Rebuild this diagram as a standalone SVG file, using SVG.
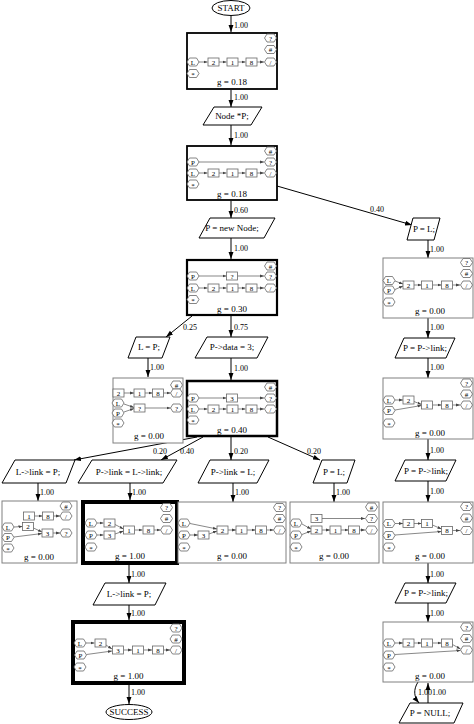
<svg xmlns="http://www.w3.org/2000/svg" width="474" height="724" viewBox="0 0 474 724">
<defs>
<style>
text{font-family:"Liberation Serif","Times New Roman",serif;fill:#000;stroke:none}
.n{font-size:9px;text-anchor:middle}
.e{font-size:8px}
.g{font-size:9px;text-anchor:middle}
.t{font-size:7px;text-anchor:middle}
.fr{fill:#fff;stroke:#808080;stroke-width:1}
.ia{stroke:#555;stroke-width:0.7;fill:none;marker-end:url(#sa)}
.ed{stroke:#000;stroke-width:1;fill:none;marker-end:url(#ah)}
.sh{fill:#fff;stroke:#000;stroke-width:1}
</style>
<marker id="ah" viewBox="0 0 10 10" refX="10" refY="5" markerWidth="7" markerHeight="7" markerUnits="userSpaceOnUse" orient="auto"><path d="M0,1.5L10,5L0,8.5z" fill="#000"/></marker>
<marker id="sa" viewBox="0 0 10 10" refX="10" refY="5" markerWidth="4" markerHeight="4" markerUnits="userSpaceOnUse" orient="auto"><path d="M0,1.5L10,5L0,8.5z" fill="#444"/></marker>
<polygon id="hx" points="-6,0 -3.5,-4 3.5,-4 6,0 3.5,4 -3.5,4" fill="#fff" stroke="#666" stroke-width="0.8"/>
<rect id="bx" x="-5.5" y="-4" width="11" height="8" fill="#fff" stroke="#666" stroke-width="0.8"/>
</defs>
<rect x="0" y="0" width="474" height="724" fill="#fff"/>

<g id="connectors">
<path class="ed" d="M231,16V32"/>
<path class="ed" d="M231,90V107"/>
<path class="ed" d="M231,125V145"/>
<path class="ed" d="M231,201V218"/>
<path class="ed" d="M277,186L412,225"/>
<path class="ed" d="M231,238V259"/>
<path class="ed" d="M192,316L166,337"/>
<path class="ed" d="M231,316V337"/>
<path class="ed" d="M148,358V377"/>
<path class="ed" d="M231,358V380"/>
<path class="ed" d="M197,437L74,460"/>
<path class="ed" d="M203,437L161,460"/>
<path class="ed" d="M231,437V460"/>
<path class="ed" d="M268,437L320,460"/>
<path class="ed" d="M38,483V501"/>
<path class="ed" d="M130,483V500"/>
<path class="ed" d="M233,483V502"/>
<path class="ed" d="M334,483V502"/>
<path class="ed" d="M129,565V583"/>
<path class="ed" d="M129,605V620"/>
<path class="ed" d="M129,685V704"/>
<path class="ed" d="M428,240V258"/>
<path class="ed" d="M428,318V338"/>
<path class="ed" d="M428,358V378"/>
<path class="ed" d="M428,439V460"/>
<path class="ed" d="M428,481V502"/>
<path class="ed" d="M428,563V583"/>
<path class="ed" d="M428,603V622"/>
<path class="ed" d="M418,682C413,690 414,697 419,703"/>
<path class="ed" d="M428,703V683"/>
<text class="e" x="234" y="28">1.00</text>
<text class="e" x="234" y="100">1.00</text>
<text class="e" x="234" y="138">1.00</text>
<text class="e" x="234" y="213">0.60</text>
<text class="e" x="370" y="212">0.40</text>
<text class="e" x="234" y="251">1.00</text>
<text class="e" x="183" y="330">0.25</text>
<text class="e" x="234" y="330">0.75</text>
<text class="e" x="150" y="370">1.00</text>
<text class="e" x="234" y="371">1.00</text>
<text class="e" x="153" y="454">0.20</text>
<text class="e" x="180" y="454">0.40</text>
<text class="e" x="234" y="454">0.20</text>
<text class="e" x="307" y="454">0.20</text>
<text class="e" x="40" y="495">1.00</text>
<text class="e" x="132" y="495">1.00</text>
<text class="e" x="235" y="495">1.00</text>
<text class="e" x="336" y="495">1.00</text>
<text class="e" x="131" y="577">1.00</text>
<text class="e" x="131" y="616">1.00</text>
<text class="e" x="131" y="695">1.00</text>
<text class="e" x="430" y="252">1.00</text>
<text class="e" x="430" y="330">1.00</text>
<text class="e" x="430" y="370">1.00</text>
<text class="e" x="430" y="453">1.00</text>
<text class="e" x="430" y="494">1.00</text>
<text class="e" x="430" y="577">1.00</text>
<text class="e" x="430" y="616">1.00</text>
<text class="e" x="418" y="695">1.00</text>
<text class="e" x="432" y="695">1.00</text>
</g>

<g id="start"><ellipse class="sh" cx="231" cy="8" rx="19" ry="7.5"/><text class="n" x="231" y="11">START</text></g>

<g id="b1">
<rect x="187" y="33" width="90" height="56" fill="#fff" stroke="#000" stroke-width="1.8"/>
<line class="ia" x1="199" y1="62" x2="207.5" y2="62"/><line class="ia" x1="219" y1="62" x2="226.5" y2="62"/><line class="ia" x1="238" y1="62" x2="245.5" y2="62"/><line class="ia" x1="257" y1="62" x2="264" y2="62"/>
<use href="#hx" x="270.5" y="38"/><text class="t" x="270.5" y="40.5">?</text>
<use href="#hx" x="270.5" y="49.5"/><text class="t" x="270.5" y="52">#</text>
<use href="#hx" x="193" y="62"/><text class="t" x="193" y="64.5">L</text>
<use href="#bx" x="213.5" y="62"/><text class="t" x="213.5" y="64.5">2</text>
<use href="#bx" x="232.5" y="62"/><text class="t" x="232.5" y="64.5">1</text>
<use href="#bx" x="251.5" y="62"/><text class="t" x="251.5" y="64.5">8</text>
<use href="#hx" x="270.5" y="62"/><text class="t" x="270.5" y="64.5">/</text>
<use href="#hx" x="193" y="73.5"/><text class="t" x="193" y="77">*</text>
<text class="g" x="232" y="85">g = 0.18</text>
</g>

<g id="p_nodep"><polygon class="sh" points="214,107 262,107 251,125 203,125"/><text class="n" x="232" y="119">Node *P;</text></g>

<g id="b2">
<rect x="187" y="146" width="90" height="54" fill="#fff" stroke="#000" stroke-width="1.8"/>
<line class="ia" x1="199" y1="162" x2="264" y2="162"/>
<line class="ia" x1="199" y1="173" x2="207.5" y2="173"/><line class="ia" x1="219" y1="173" x2="226.5" y2="173"/><line class="ia" x1="238" y1="173" x2="245.5" y2="173"/><line class="ia" x1="257" y1="173" x2="264" y2="173"/>
<use href="#hx" x="270.5" y="151"/><text class="t" x="270.5" y="153.5">#</text>
<use href="#hx" x="193" y="162"/><text class="t" x="193" y="164.5">P</text>
<use href="#hx" x="270.5" y="162"/><text class="t" x="270.5" y="164.5">?</text>
<use href="#hx" x="193" y="173"/><text class="t" x="193" y="175.5">L</text>
<use href="#bx" x="213.5" y="173"/><text class="t" x="213.5" y="175.5">2</text>
<use href="#bx" x="232.5" y="173"/><text class="t" x="232.5" y="175.5">1</text>
<use href="#bx" x="251.5" y="173"/><text class="t" x="251.5" y="175.5">8</text>
<use href="#hx" x="270.5" y="173"/><text class="t" x="270.5" y="175.5">/</text>
<use href="#hx" x="193" y="184"/><text class="t" x="193" y="187.5">*</text>
<text class="g" x="232" y="197">g = 0.18</text>
</g>

<g id="p_newnode"><polygon class="sh" points="210,218 275,218 264,238 199,238"/><text class="n" x="232" y="231">P = new Node;</text></g>

<g id="b3">
<rect x="187" y="260" width="90" height="55" fill="#fff" stroke="#000" stroke-width="2.2"/>
<line class="ia" x1="199" y1="276" x2="226.5" y2="276"/><line class="ia" x1="237.5" y1="276" x2="264" y2="276"/>
<line class="ia" x1="199" y1="288" x2="207.5" y2="288"/><line class="ia" x1="219" y1="288" x2="226.5" y2="288"/><line class="ia" x1="238" y1="288" x2="245.5" y2="288"/><line class="ia" x1="257" y1="288" x2="264" y2="288"/>
<use href="#hx" x="270.5" y="266"/><text class="t" x="270.5" y="268.5">#</text>
<use href="#hx" x="193" y="276"/><text class="t" x="193" y="278.5">P</text>
<use href="#bx" x="232" y="276"/><text class="t" x="232" y="278.5">?</text>
<use href="#hx" x="270.5" y="276"/><text class="t" x="270.5" y="278.5">?</text>
<use href="#hx" x="193" y="288"/><text class="t" x="193" y="290.5">L</text>
<use href="#bx" x="213.5" y="288"/><text class="t" x="213.5" y="290.5">2</text>
<use href="#bx" x="232.5" y="288"/><text class="t" x="232.5" y="290.5">1</text>
<use href="#bx" x="251.5" y="288"/><text class="t" x="251.5" y="290.5">8</text>
<use href="#hx" x="270.5" y="288"/><text class="t" x="270.5" y="290.5">/</text>
<use href="#hx" x="193" y="299.5"/><text class="t" x="193" y="303">*</text>
<text class="g" x="232" y="312">g = 0.30</text>
</g>

<g id="p_lp"><polygon class="sh" points="136,337 170,337 162,358 128,358"/><text class="n" x="149" y="350">L = P;</text></g>
<g id="p_data"><polygon class="sh" points="207,337 268,337 257,358 195,358"/><text class="n" x="232" y="350">P-&gt;data = 3;</text></g>

<g id="b4">
<rect class="fr" x="113" y="378" width="70" height="65"/>
<line class="ia" x1="124" y1="393" x2="134" y2="393"/><line class="ia" x1="145" y1="393" x2="152.5" y2="393"/><line class="ia" x1="163.5" y1="393" x2="170.5" y2="393"/>
<line class="ia" x1="124" y1="404" x2="134" y2="407.5"/><line class="ia" x1="124" y1="412" x2="134" y2="408.5"/><line class="ia" x1="145" y1="408" x2="170.5" y2="408"/>
<use href="#hx" x="176.5" y="385"/><text class="t" x="176.5" y="387.5">#</text>
<use href="#bx" x="118.5" y="393"/><text class="t" x="118.5" y="395.5">2</text>
<use href="#bx" x="139.5" y="393"/><text class="t" x="139.5" y="395.5">1</text>
<use href="#bx" x="158" y="393"/><text class="t" x="158" y="395.5">8</text>
<use href="#hx" x="176.5" y="393"/><text class="t" x="176.5" y="395.5">/</text>
<use href="#hx" x="118" y="403"/><text class="t" x="118" y="405.5">L</text>
<use href="#bx" x="139.5" y="408"/><text class="t" x="139.5" y="410.5">?</text>
<use href="#hx" x="176.5" y="408"/><text class="t" x="176.5" y="410.5">?</text>
<use href="#hx" x="118" y="413"/><text class="t" x="118" y="415.5">P</text>
<use href="#hx" x="118" y="423"/><text class="t" x="118" y="426.5">*</text>
<text class="g" x="149" y="439">g = 0.00</text>
</g>

<g id="b5">
<rect x="187" y="381" width="90" height="55" fill="#fff" stroke="#000" stroke-width="2.5"/>
<line class="ia" x1="199" y1="398" x2="226.5" y2="398"/><line class="ia" x1="237.5" y1="398" x2="264" y2="398"/>
<line class="ia" x1="199" y1="409" x2="207.5" y2="409"/><line class="ia" x1="219" y1="409" x2="226.5" y2="409"/><line class="ia" x1="238" y1="409" x2="245.5" y2="409"/><line class="ia" x1="257" y1="409" x2="264" y2="409"/>
<use href="#hx" x="270.5" y="387"/><text class="t" x="270.5" y="389.5">#</text>
<use href="#hx" x="193" y="398"/><text class="t" x="193" y="400.5">P</text>
<use href="#bx" x="232" y="398"/><text class="t" x="232" y="400.5">3</text>
<use href="#hx" x="270.5" y="398"/><text class="t" x="270.5" y="400.5">?</text>
<use href="#hx" x="193" y="409"/><text class="t" x="193" y="411.5">L</text>
<use href="#bx" x="213.5" y="409"/><text class="t" x="213.5" y="411.5">2</text>
<use href="#bx" x="232.5" y="409"/><text class="t" x="232.5" y="411.5">1</text>
<use href="#bx" x="251.5" y="409"/><text class="t" x="251.5" y="411.5">8</text>
<use href="#hx" x="270.5" y="409"/><text class="t" x="270.5" y="411.5">/</text>
<use href="#hx" x="193" y="420"/><text class="t" x="193" y="423.5">*</text>
<text class="g" x="232" y="432.5">g = 0.40</text>
</g>

<g id="p_llinkp"><polygon class="sh" points="15,460 75,460 66,483 2,483"/><text class="n" x="38" y="475">L-&gt;link = P;</text></g>
<g id="p_plinkllink"><polygon class="sh" points="92,460 177,460 163,483 78,483"/><text class="n" x="129" y="475">P-&gt;link = L-&gt;link;</text></g>
<g id="p_plinkl"><polygon class="sh" points="210,460 269,460 257,483 198,483"/><text class="n" x="233" y="475">P-&gt;link = L;</text></g>
<g id="p_pl_mid"><polygon class="sh" points="322,460 355,460 347,483 313,483"/><text class="n" x="334" y="475">P = L;</text></g>

<g id="b6">
<rect class="fr" x="2" y="501" width="75" height="62"/>
<line class="ia" x1="34.5" y1="516" x2="42.5" y2="516"/><line class="ia" x1="53.5" y1="516" x2="60" y2="516"/>
<line class="ia" x1="14" y1="527" x2="22.5" y2="526.5"/><line class="ia" x1="33.5" y1="528" x2="42" y2="532"/><line class="ia" x1="14" y1="537" x2="42" y2="533.5"/><line class="ia" x1="53" y1="533" x2="60" y2="533"/>
<use href="#hx" x="66" y="506"/><text class="t" x="66" y="508.5">#</text>
<use href="#bx" x="29" y="516"/><text class="t" x="29" y="518.5">1</text>
<use href="#bx" x="48" y="516"/><text class="t" x="48" y="518.5">8</text>
<use href="#hx" x="66" y="516"/><text class="t" x="66" y="518.5">/</text>
<use href="#hx" x="8" y="527"/><text class="t" x="8" y="529.5">L</text>
<use href="#bx" x="28" y="526.5"/><text class="t" x="28" y="529">2</text>
<use href="#bx" x="47.5" y="533"/><text class="t" x="47.5" y="535.5">3</text>
<use href="#hx" x="66" y="533"/><text class="t" x="66" y="535.5">?</text>
<use href="#hx" x="8" y="537.5"/><text class="t" x="8" y="540">P</text>
<use href="#hx" x="8" y="548"/><text class="t" x="8" y="551.5">*</text>
<text class="g" x="39" y="560">g = 0.00</text>
</g>

<g id="b7">
<rect x="83" y="502" width="94" height="61" fill="#fff" stroke="#000" stroke-width="4"/>
<line class="ia" x1="97" y1="523" x2="103.5" y2="523"/><line class="ia" x1="97" y1="535" x2="103.5" y2="535"/>
<line class="ia" x1="115" y1="524.5" x2="123.5" y2="529"/><line class="ia" x1="115" y1="534" x2="123.5" y2="531"/>
<line class="ia" x1="134.5" y1="530" x2="142.5" y2="530"/><line class="ia" x1="154" y1="530" x2="160.5" y2="530"/>
<use href="#hx" x="166.5" y="507.5"/><text class="t" x="166.5" y="510">?</text>
<use href="#hx" x="166.5" y="518.5"/><text class="t" x="166.5" y="521">#</text>
<use href="#hx" x="91" y="523"/><text class="t" x="91" y="525.5">L</text>
<use href="#bx" x="109.5" y="523"/><text class="t" x="109.5" y="525.5">2</text>
<use href="#hx" x="91" y="535"/><text class="t" x="91" y="537.5">P</text>
<use href="#bx" x="109.5" y="535"/><text class="t" x="109.5" y="537.5">3</text>
<use href="#bx" x="129" y="530"/><text class="t" x="129" y="532.5">1</text>
<use href="#bx" x="148.5" y="530"/><text class="t" x="148.5" y="532.5">8</text>
<use href="#hx" x="166.5" y="530"/><text class="t" x="166.5" y="532.5">/</text>
<use href="#hx" x="91" y="547"/><text class="t" x="91" y="550.5">*</text>
<text class="g" x="130" y="559">g = 1.00</text>
</g>

<g id="b8">
<rect class="fr" x="178" y="502" width="108" height="61"/>
<line class="ia" x1="190" y1="523.5" x2="217" y2="529"/><line class="ia" x1="190" y1="535" x2="198" y2="535"/><line class="ia" x1="209" y1="534" x2="217" y2="531"/>
<line class="ia" x1="228" y1="530" x2="236" y2="530"/><line class="ia" x1="247" y1="530" x2="255.5" y2="530"/><line class="ia" x1="266.5" y1="530" x2="273.5" y2="530"/>
<use href="#hx" x="279.5" y="507.5"/><text class="t" x="279.5" y="510">?</text>
<use href="#hx" x="279.5" y="518.5"/><text class="t" x="279.5" y="521">#</text>
<use href="#hx" x="184" y="523"/><text class="t" x="184" y="525.5">L</text>
<use href="#hx" x="184" y="535"/><text class="t" x="184" y="537.5">P</text>
<use href="#bx" x="203.5" y="535"/><text class="t" x="203.5" y="537.5">3</text>
<use href="#bx" x="222.5" y="530"/><text class="t" x="222.5" y="532.5">2</text>
<use href="#bx" x="241.5" y="530"/><text class="t" x="241.5" y="532.5">1</text>
<use href="#bx" x="261" y="530"/><text class="t" x="261" y="532.5">8</text>
<use href="#hx" x="279.5" y="530"/><text class="t" x="279.5" y="532.5">/</text>
<use href="#hx" x="184" y="547"/><text class="t" x="184" y="550.5">*</text>
<text class="g" x="232" y="559">g = 0.00</text>
</g>

<g id="b9">
<rect class="fr" x="290" y="502" width="89" height="61"/>
<line class="ia" x1="322" y1="518.5" x2="365" y2="518.5"/>
<line class="ia" x1="302" y1="524" x2="311" y2="529"/><line class="ia" x1="302" y1="534.5" x2="311" y2="531"/>
<line class="ia" x1="322" y1="530" x2="330" y2="530"/><line class="ia" x1="341" y1="530" x2="348.5" y2="530"/><line class="ia" x1="359.5" y1="530" x2="365" y2="530"/>
<use href="#hx" x="371.5" y="507"/><text class="t" x="371.5" y="509.5">#</text>
<use href="#bx" x="316.5" y="518.5"/><text class="t" x="316.5" y="521">3</text>
<use href="#hx" x="371.5" y="518.5"/><text class="t" x="371.5" y="521">?</text>
<use href="#hx" x="296" y="523"/><text class="t" x="296" y="525.5">L</text>
<use href="#hx" x="296" y="535"/><text class="t" x="296" y="537.5">P</text>
<use href="#bx" x="316.5" y="530"/><text class="t" x="316.5" y="532.5">2</text>
<use href="#bx" x="335.5" y="530"/><text class="t" x="335.5" y="532.5">1</text>
<use href="#bx" x="354" y="530"/><text class="t" x="354" y="532.5">8</text>
<use href="#hx" x="371.5" y="530"/><text class="t" x="371.5" y="532.5">/</text>
<use href="#hx" x="296" y="547"/><text class="t" x="296" y="550.5">*</text>
<text class="g" x="334" y="559">g = 0.00</text>
</g>

<g id="p_llinkp2"><polygon class="sh" points="105,583 166,583 155,605 93,605"/><text class="n" x="129" y="597">L-&gt;link = P;</text></g>

<g id="b10">
<rect x="73" y="622" width="111" height="61" fill="#fff" stroke="#000" stroke-width="4"/>
<line class="ia" x1="86" y1="643" x2="94.5" y2="643"/><line class="ia" x1="106" y1="645" x2="112" y2="649"/><line class="ia" x1="86.5" y1="654.5" x2="112" y2="651"/>
<line class="ia" x1="123.5" y1="650" x2="132" y2="650"/><line class="ia" x1="143.5" y1="650" x2="152" y2="650"/><line class="ia" x1="163.5" y1="650" x2="170" y2="650"/>
<use href="#hx" x="176" y="628"/><text class="t" x="176" y="630.5">?</text>
<use href="#hx" x="176" y="639"/><text class="t" x="176" y="641.5">#</text>
<use href="#hx" x="80" y="643"/><text class="t" x="80" y="645.5">L</text>
<use href="#bx" x="100.5" y="643"/><text class="t" x="100.5" y="645.5">2</text>
<use href="#hx" x="80.5" y="655"/><text class="t" x="80.5" y="657.5">P</text>
<use href="#bx" x="118" y="650"/><text class="t" x="118" y="652.5">3</text>
<use href="#bx" x="138" y="650"/><text class="t" x="138" y="652.5">1</text>
<use href="#bx" x="158" y="650"/><text class="t" x="158" y="652.5">8</text>
<use href="#hx" x="176" y="650"/><text class="t" x="176" y="652.5">/</text>
<use href="#hx" x="80" y="667"/><text class="t" x="80" y="670.5">*</text>
<text class="g" x="128.5" y="679">g = 1.00</text>
</g>

<g id="success"><ellipse class="sh" cx="129" cy="712" rx="23" ry="7.5"/><text class="n" x="129" y="715">SUCCESS</text></g>

<g id="p_pl_right"><polygon class="sh" points="413,218 440,218 434,240 407,240"/><text class="n" x="424" y="232">P = L;</text></g>

<g id="r1">
<rect class="fr" x="383" y="258" width="90" height="60"/>
<line class="ia" x1="395" y1="281" x2="403" y2="284"/><line class="ia" x1="395" y1="289.5" x2="403" y2="286"/>
<line class="ia" x1="414" y1="285" x2="421.5" y2="285"/><line class="ia" x1="432.5" y1="285" x2="441.5" y2="285"/><line class="ia" x1="452.5" y1="285" x2="460" y2="285"/>
<use href="#hx" x="466.5" y="262.5"/><text class="t" x="466.5" y="265">?</text>
<use href="#hx" x="466.5" y="273.5"/><text class="t" x="466.5" y="276">#</text>
<use href="#hx" x="389" y="280.5"/><text class="t" x="389" y="283">L</text>
<use href="#hx" x="389" y="290"/><text class="t" x="389" y="292.5">P</text>
<use href="#bx" x="408.5" y="285"/><text class="t" x="408.5" y="287.5">2</text>
<use href="#bx" x="427" y="285"/><text class="t" x="427" y="287.5">1</text>
<use href="#bx" x="447" y="285"/><text class="t" x="447" y="287.5">8</text>
<use href="#hx" x="466.5" y="285"/><text class="t" x="466.5" y="287.5">/</text>
<use href="#hx" x="389" y="302"/><text class="t" x="389" y="305.5">*</text>
<text class="g" x="430" y="314">g = 0.00</text>
</g>

<g id="p_pplink1"><polygon class="sh" points="404,338 455,338 446,358 395,358"/><text class="n" x="425" y="351">P = P-&gt;link;</text></g>

<g id="r2">
<rect class="fr" x="383" y="378" width="90" height="61"/>
<line class="ia" x1="395" y1="400" x2="403" y2="400"/><line class="ia" x1="414" y1="401.5" x2="421.5" y2="404.5"/><line class="ia" x1="395" y1="410" x2="421.5" y2="405.5"/>
<line class="ia" x1="432.5" y1="405" x2="441.5" y2="405"/><line class="ia" x1="452.5" y1="405" x2="460" y2="405"/>
<use href="#hx" x="466.5" y="383"/><text class="t" x="466.5" y="385.5">?</text>
<use href="#hx" x="466.5" y="394"/><text class="t" x="466.5" y="396.5">#</text>
<use href="#hx" x="389" y="400"/><text class="t" x="389" y="402.5">L</text>
<use href="#bx" x="408.5" y="400"/><text class="t" x="408.5" y="402.5">2</text>
<use href="#hx" x="389" y="410.5"/><text class="t" x="389" y="413">P</text>
<use href="#bx" x="427" y="405"/><text class="t" x="427" y="407.5">1</text>
<use href="#bx" x="447" y="405"/><text class="t" x="447" y="407.5">8</text>
<use href="#hx" x="466.5" y="405"/><text class="t" x="466.5" y="407.5">/</text>
<use href="#hx" x="389" y="423"/><text class="t" x="389" y="426.5">*</text>
<text class="g" x="430" y="435.5">g = 0.00</text>
</g>

<g id="p_pplink2"><polygon class="sh" points="405,460 456,460 446,481 395,481"/><text class="n" x="426" y="474">P = P-&gt;link;</text></g>

<g id="r3">
<rect class="fr" x="383" y="502" width="90" height="61"/>
<line class="ia" x1="395" y1="523.5" x2="403" y2="523.5"/><line class="ia" x1="414" y1="523.5" x2="421.5" y2="523.5"/>
<line class="ia" x1="432.5" y1="525" x2="441.5" y2="529"/><line class="ia" x1="395" y1="535" x2="441.5" y2="531.5"/><line class="ia" x1="452.5" y1="530.5" x2="460" y2="530.5"/>
<use href="#hx" x="466.5" y="506.5"/><text class="t" x="466.5" y="509">?</text>
<use href="#hx" x="466.5" y="518"/><text class="t" x="466.5" y="520.5">#</text>
<use href="#hx" x="389" y="523.5"/><text class="t" x="389" y="526">L</text>
<use href="#bx" x="408.5" y="523.5"/><text class="t" x="408.5" y="526">2</text>
<use href="#bx" x="427" y="523.5"/><text class="t" x="427" y="526">1</text>
<use href="#bx" x="447" y="530.5"/><text class="t" x="447" y="533">8</text>
<use href="#hx" x="466.5" y="530.5"/><text class="t" x="466.5" y="533">/</text>
<use href="#hx" x="389" y="535.5"/><text class="t" x="389" y="538">P</text>
<use href="#hx" x="389" y="547"/><text class="t" x="389" y="550.5">*</text>
<text class="g" x="430" y="559">g = 0.00</text>
</g>

<g id="p_pplink3"><polygon class="sh" points="405,583 456,583 446,603 395,603"/><text class="n" x="426" y="596">P = P-&gt;link;</text></g>

<g id="r4">
<rect class="fr" x="383" y="622" width="90" height="60"/>
<line class="ia" x1="395" y1="643" x2="403" y2="643"/><line class="ia" x1="414" y1="643" x2="421.5" y2="643"/><line class="ia" x1="432.5" y1="643" x2="441.5" y2="643"/>
<line class="ia" x1="452.5" y1="644.5" x2="460.5" y2="649"/><line class="ia" x1="395" y1="654.5" x2="460.5" y2="650.5"/>
<use href="#hx" x="466.5" y="627"/><text class="t" x="466.5" y="629.5">?</text>
<use href="#hx" x="466.5" y="638.5"/><text class="t" x="466.5" y="641">#</text>
<use href="#hx" x="389" y="643"/><text class="t" x="389" y="645.5">L</text>
<use href="#bx" x="408.5" y="643"/><text class="t" x="408.5" y="645.5">2</text>
<use href="#bx" x="427" y="643"/><text class="t" x="427" y="645.5">1</text>
<use href="#bx" x="447" y="643"/><text class="t" x="447" y="645.5">8</text>
<use href="#hx" x="466.5" y="650"/><text class="t" x="466.5" y="652.5">/</text>
<use href="#hx" x="389" y="655"/><text class="t" x="389" y="657.5">P</text>
<use href="#hx" x="389" y="667"/><text class="t" x="389" y="670.5">*</text>
<text class="g" x="430" y="679">g = 0.00</text>
</g>

<g id="p_pnull"><polygon class="sh" points="410,703 463,703 454,723 399,723"/><text class="n" x="430" y="716">P = NULL;</text></g>
</svg>
